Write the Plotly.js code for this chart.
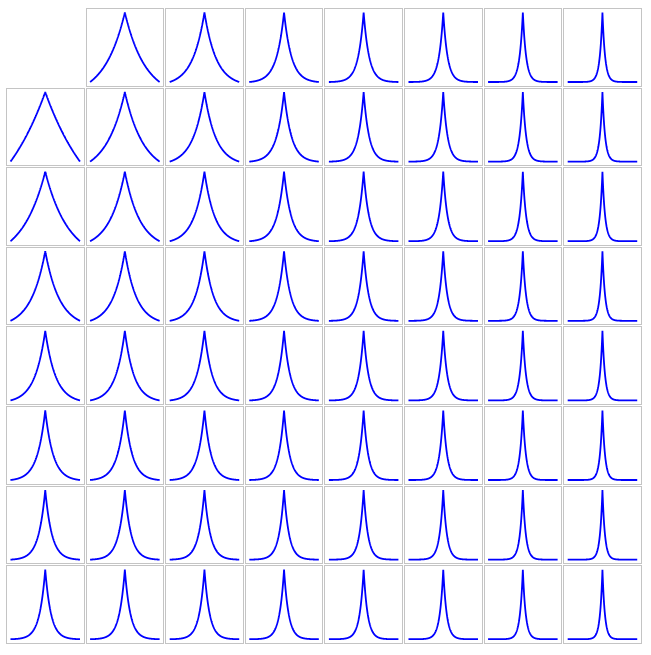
<!DOCTYPE html>
<html>
<head>
<meta charset="utf-8">
<script src="https://cdn.plot.ly/plotly-3.0.1.min.js"></script>
<style>html,body{margin:0;padding:0;background:#fff;}</style>
</head>
<body>
<div id="chart" style="width:651px;height:655px;"></div>
<script>
// Decay rate of each panel's peak, y = exp(-rate*|x|).
// Row 0, column 0 is empty.
const decay_row0 = [null, 1.70, 2.90, 4.60, 6.30, 8.00, 10.50, 13.00];
const decay_row1 = [0.70, 1.84, 2.98, 4.65, 6.34, 8.03, 10.52, 13.02];
const decay_row2 = [1.50, 2.27, 3.26, 4.84, 6.48, 8.14, 10.61, 13.09];
const decay_row3 = [2.40, 2.94, 3.76, 5.19, 6.74, 8.35, 10.77, 13.22];
const decay_row4 = [3.30, 3.71, 4.39, 5.66, 7.11, 8.65, 11.01, 13.41];
const decay_row5 = [4.30, 4.62, 5.19, 6.30, 7.63, 9.08, 11.35, 13.69];
const decay_row6 = [5.20, 5.47, 5.95, 6.94, 8.17, 9.54, 11.72, 14.00];
const decay_row7 = [6.00, 6.24, 6.66, 7.56, 8.70, 10.00, 12.09, 14.32];
const decayRows = [decay_row0, decay_row1, decay_row2, decay_row3,
                   decay_row4, decay_row5, decay_row6, decay_row7];

// x extent of every panel
const xMin = -1, xMax = 1, nSamples = 801;

const xs = [];
for (let k = 0; k < nSamples; k++) xs.push(xMin + (xMax - xMin) * k / (nSamples - 1));

const nRows = 8, nCols = 8;
const W = 634, H = 634, step = 79.6, size = 76.5;

const traces = [];
const layout = {
  width: 651, height: 655,
  margin: {l: 7, r: 10, t: 9, b: 12, pad: 0},
  paper_bgcolor: '#ffffff', plot_bgcolor: '#ffffff',
  showlegend: false, hovermode: false
};

let n = 0;
for (let i = 0; i < nRows; i++) {
  for (let j = 0; j < nCols; j++) {
    const rate = decayRows[i][j];
    if (rate === null) continue;
    n++;
    const xid = n === 1 ? 'x' : 'x' + n;
    const yid = n === 1 ? 'y' : 'y' + n;
    const ys = xs.map(x => Math.exp(-rate * Math.abs(x)));
    const yLo = Math.exp(-rate), yHi = 1;
    traces.push({
      type: 'scatter', mode: 'lines', x: xs, y: ys,
      xaxis: xid, yaxis: yid,
      line: {color: '#0000ff', width: 1.8, simplify: false},
      hoverinfo: 'skip'
    });
    const x0 = j * step / W, x1 = (j * step + size) / W;
    const y1 = 1 - i * step / H, y0 = 1 - (i * step + size) / H;
    const padX = 0.05 * (xMax - xMin), padY = 0.05 * (yHi - yLo);
    const axCommon = {
      showline: true, mirror: true, linecolor: '#c4c4c4', linewidth: 1,
      showgrid: false, zeroline: false, showticklabels: false, ticks: '',
      fixedrange: true
    };
    layout[n === 1 ? 'xaxis' : 'xaxis' + n] = Object.assign({}, axCommon, {
      domain: [x0, x1], range: [xMin - padX, xMax + padX], anchor: yid
    });
    layout[n === 1 ? 'yaxis' : 'yaxis' + n] = Object.assign({}, axCommon, {
      domain: [Math.max(0, y0), Math.min(1, y1)], range: [yLo - padY, yHi + padY], anchor: xid
    });
  }
}

Plotly.newPlot('chart', traces, layout, {staticPlot: true, displayModeBar: false});
</script>
</body>
</html>
